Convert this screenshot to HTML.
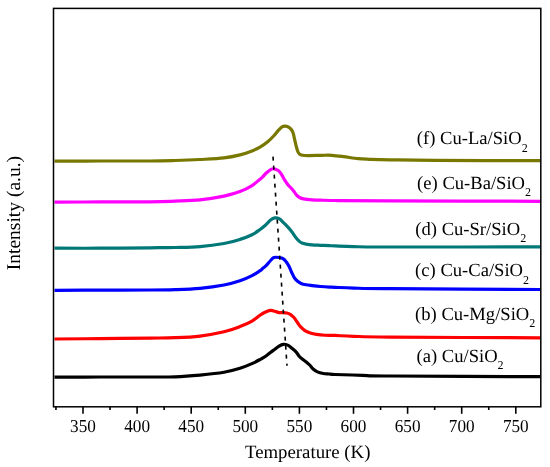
<!DOCTYPE html>
<html><head><meta charset="utf-8"><style>
html,body{margin:0;padding:0;background:#fff;width:550px;height:467px;overflow:hidden}
svg{display:block}
text{font-family:"Liberation Serif","Times New Roman",serif;fill:#000;text-rendering:geometricPrecision}
</style></head><body>
<svg width="550" height="467" viewBox="0 0 550 467">
<rect x="0" y="0" width="550" height="467" fill="#fff"/>
<path d="M54.50,161.20 C62.08,161.17 84.08,161.03 100.00,161.00 C115.92,160.97 137.50,161.08 150.00,161.00 C162.50,160.92 166.67,160.75 175.00,160.50 C183.33,160.25 191.83,159.93 200.00,159.50 C208.17,159.07 217.33,158.72 224.00,157.95 C230.67,157.18 235.33,156.07 240.00,154.90 C244.67,153.73 248.67,152.20 252.00,150.90 C255.33,149.60 257.33,148.67 260.00,147.10 C262.67,145.53 265.52,143.58 268.00,141.50 C270.48,139.42 273.22,136.40 274.90,134.60 C276.58,132.80 276.90,131.98 278.10,130.70 C279.30,129.42 280.85,127.65 282.10,126.90 C283.35,126.15 284.35,126.05 285.60,126.20 C286.85,126.35 288.40,126.82 289.60,127.80 C290.80,128.78 291.97,130.18 292.80,132.10 C293.63,134.02 294.02,136.90 294.60,139.30 C295.18,141.70 295.77,144.47 296.30,146.50 C296.83,148.53 297.30,150.28 297.80,151.50 C298.30,152.72 298.68,153.22 299.30,153.80 C299.92,154.38 300.63,154.72 301.50,155.00 C302.37,155.28 303.25,155.40 304.50,155.50 C305.75,155.60 306.12,155.63 309.00,155.60 C311.88,155.57 317.97,155.35 321.80,155.30 C325.63,155.25 328.37,155.08 332.00,155.30 C335.63,155.52 339.23,156.03 343.60,156.60 C347.97,157.17 353.83,158.25 358.20,158.70 C362.57,159.15 364.58,159.12 369.80,159.30 C375.02,159.48 378.63,159.62 389.50,159.80 C400.37,159.98 409.83,160.27 435.00,160.40 C460.17,160.53 522.92,160.57 540.50,160.60" fill="none" stroke="#787800" stroke-width="3.2" stroke-linejoin="round" stroke-linecap="butt"/>
<path d="M54.50,202.05 C62.08,202.03 84.08,201.98 100.00,201.95 C115.92,201.92 137.50,201.99 150.00,201.85 C162.50,201.71 166.67,201.45 175.00,201.11 C183.33,200.77 191.83,200.64 200.00,199.80 C208.17,198.97 217.33,197.47 224.00,196.10 C230.67,194.73 235.33,193.35 240.00,191.60 C244.67,189.85 248.67,187.67 252.00,185.60 C255.33,183.53 258.30,180.57 260.00,179.20 C261.70,177.83 261.15,178.43 262.20,177.40 C263.25,176.37 264.90,174.30 266.30,173.00 C267.70,171.70 269.32,170.30 270.60,169.60 C271.88,168.90 272.72,168.65 274.00,168.80 C275.28,168.95 277.10,169.65 278.30,170.50 C279.50,171.35 280.15,172.33 281.20,173.90 C282.25,175.47 283.45,178.05 284.60,179.90 C285.75,181.75 286.95,183.57 288.10,185.00 C289.25,186.43 290.48,187.38 291.50,188.50 C292.52,189.62 293.35,190.58 294.20,191.70 C295.05,192.82 295.72,194.23 296.60,195.20 C297.48,196.17 298.33,196.88 299.50,197.50 C300.67,198.12 301.50,198.52 303.60,198.90 C305.70,199.28 309.25,199.58 312.10,199.80 C314.95,200.02 316.88,200.08 320.70,200.20 C324.52,200.32 323.45,200.38 335.00,200.50 C346.55,200.62 355.75,200.77 390.00,200.90 C424.25,201.03 515.42,201.23 540.50,201.30" fill="none" stroke="#ff00ff" stroke-width="3.2" stroke-linejoin="round" stroke-linecap="butt"/>
<path d="M54.50,248.20 C62.08,248.20 84.08,248.27 100.00,248.20 C115.92,248.13 137.50,247.92 150.00,247.80 C162.50,247.68 166.67,247.70 175.00,247.50 C183.33,247.30 191.83,247.27 200.00,246.60 C208.17,245.93 217.33,244.70 224.00,243.50 C230.67,242.30 235.33,240.85 240.00,239.40 C244.67,237.95 248.67,236.44 252.00,234.80 C255.33,233.16 258.28,230.72 260.00,229.55 C261.72,228.38 261.25,228.68 262.30,227.80 C263.35,226.93 264.92,225.60 266.30,224.30 C267.68,223.00 269.18,221.07 270.60,220.00 C272.02,218.93 273.38,218.12 274.80,217.90 C276.22,217.68 277.67,217.92 279.10,218.70 C280.53,219.48 281.97,221.23 283.40,222.60 C284.83,223.97 286.27,225.33 287.70,226.90 C289.13,228.47 290.62,230.20 292.00,232.00 C293.38,233.80 294.72,236.10 296.00,237.70 C297.28,239.30 298.70,240.70 299.70,241.60 C300.70,242.50 300.93,242.68 302.00,243.10 C303.07,243.52 304.42,243.80 306.10,244.10 C307.78,244.40 309.67,244.70 312.10,244.90 C314.53,245.10 317.83,245.17 320.70,245.30 C323.57,245.43 326.92,245.60 329.30,245.70 C331.68,245.80 330.95,245.75 335.00,245.90 C339.05,246.05 344.43,246.42 353.60,246.60 C362.77,246.78 358.85,246.95 390.00,247.00 C421.15,247.05 515.42,246.92 540.50,246.90" fill="none" stroke="#007878" stroke-width="3.2" stroke-linejoin="round" stroke-linecap="butt"/>
<path d="M54.50,290.40 C62.08,290.35 84.08,290.17 100.00,290.10 C115.92,290.03 137.50,290.08 150.00,290.00 C162.50,289.92 166.67,289.88 175.00,289.60 C183.33,289.32 191.83,289.07 200.00,288.30 C208.17,287.53 217.33,286.25 224.00,285.00 C230.67,283.75 235.33,282.37 240.00,280.80 C244.67,279.23 248.67,277.28 252.00,275.60 C255.33,273.92 258.30,271.82 260.00,270.70 C261.70,269.58 261.15,269.78 262.20,268.90 C263.25,268.02 264.90,266.80 266.30,265.40 C267.70,264.00 269.32,261.82 270.60,260.50 C271.88,259.18 272.58,258.00 274.00,257.50 C275.42,257.00 277.53,257.28 279.10,257.50 C280.67,257.72 282.17,258.02 283.40,258.80 C284.63,259.58 285.55,260.92 286.50,262.20 C287.45,263.48 288.23,264.78 289.10,266.50 C289.97,268.22 290.82,270.62 291.70,272.50 C292.58,274.38 293.42,276.33 294.40,277.80 C295.38,279.27 296.50,280.37 297.60,281.30 C298.70,282.23 299.58,282.82 301.00,283.40 C302.42,283.98 304.25,284.43 306.10,284.80 C307.95,285.17 309.67,285.32 312.10,285.60 C314.53,285.88 317.83,286.25 320.70,286.50 C323.57,286.75 326.92,286.97 329.30,287.10 C331.68,287.23 330.95,287.13 335.00,287.30 C339.05,287.47 344.43,287.87 353.60,288.10 C362.77,288.33 358.85,288.47 390.00,288.70 C421.15,288.93 515.42,289.37 540.50,289.50" fill="none" stroke="#0000ff" stroke-width="3.2" stroke-linejoin="round" stroke-linecap="butt"/>
<path d="M54.50,339.00 C62.08,338.93 84.08,338.75 100.00,338.60 C115.92,338.45 137.50,338.25 150.00,338.10 C162.50,337.95 166.67,338.04 175.00,337.70 C183.33,337.36 191.83,337.03 200.00,336.05 C208.17,335.07 217.33,333.38 224.00,331.80 C230.67,330.23 235.33,328.38 240.00,326.60 C244.67,324.82 248.67,323.00 252.00,321.10 C255.33,319.20 257.83,316.67 260.00,315.20 C262.17,313.73 263.23,313.10 265.00,312.30 C266.77,311.50 268.97,310.57 270.60,310.40 C272.23,310.23 273.38,310.93 274.80,311.30 C276.22,311.67 277.80,312.38 279.10,312.60 C280.40,312.82 281.32,312.53 282.60,312.60 C283.88,312.67 285.52,312.72 286.80,313.00 C288.08,313.28 289.15,313.58 290.30,314.30 C291.45,315.02 292.57,316.02 293.70,317.30 C294.83,318.58 296.07,320.55 297.10,322.00 C298.13,323.45 299.00,324.90 299.90,326.00 C300.80,327.10 301.60,327.78 302.50,328.60 C303.40,329.42 303.98,330.17 305.30,330.90 C306.62,331.63 308.55,332.43 310.40,333.00 C312.25,333.57 313.97,333.93 316.40,334.30 C318.83,334.67 321.90,335.04 325.00,335.23 C328.10,335.43 330.23,335.29 335.00,335.47 C339.77,335.65 344.43,336.03 353.60,336.30 C362.77,336.57 358.85,336.85 390.00,337.10 C421.15,337.35 515.42,337.68 540.50,337.80" fill="none" stroke="#ff0000" stroke-width="3.2" stroke-linejoin="round" stroke-linecap="butt"/>
<path d="M54.50,377.10 C62.08,377.08 84.08,377.02 100.00,377.00 C115.92,376.98 137.50,377.03 150.00,377.00 C162.50,376.97 166.67,377.12 175.00,376.80 C183.33,376.48 191.83,375.81 200.00,375.05 C208.17,374.29 217.33,373.38 224.00,372.26 C230.67,371.13 235.33,369.74 240.00,368.30 C244.67,366.86 248.67,365.06 252.00,363.60 C255.33,362.14 257.67,360.83 260.00,359.55 C262.33,358.27 263.83,357.44 266.00,355.95 C268.17,354.46 270.82,352.24 273.00,350.60 C275.18,348.96 277.37,347.15 279.10,346.10 C280.83,345.05 281.97,344.47 283.40,344.30 C284.83,344.13 286.38,344.53 287.70,345.10 C289.02,345.67 290.12,346.77 291.30,347.70 C292.48,348.63 293.83,349.78 294.80,350.70 C295.77,351.62 296.33,352.23 297.10,353.20 C297.87,354.17 298.43,355.45 299.40,356.50 C300.37,357.55 301.75,358.58 302.90,359.50 C304.05,360.42 305.17,361.08 306.30,362.00 C307.43,362.92 308.57,363.83 309.70,365.00 C310.83,366.17 311.82,367.85 313.10,369.00 C314.38,370.15 315.70,371.15 317.40,371.90 C319.10,372.65 321.32,373.15 323.30,373.50 C325.28,373.85 327.35,373.83 329.30,374.00 C331.25,374.17 329.43,374.28 335.00,374.50 C340.57,374.72 353.53,375.05 362.70,375.30 C371.87,375.55 360.37,375.77 390.00,376.00 C419.63,376.23 515.42,376.58 540.50,376.70" fill="none" stroke="#000000" stroke-width="3.2" stroke-linejoin="round" stroke-linecap="butt"/>
<line x1="273" y1="156.6" x2="287" y2="365.8" stroke="#000" stroke-width="1.6" stroke-dasharray="4 5.02"/>
<rect x="53.5" y="8.4" width="487.3" height="398.4" fill="none" stroke="#000" stroke-width="1.5"/>
<line x1="55.95" y1="406.8" x2="55.95" y2="410.00" stroke="#000" stroke-width="1.6"/>
<line x1="83.00" y1="406.8" x2="83.00" y2="413.80" stroke="#000" stroke-width="1.6"/>
<text transform="translate(83.00,431.9) scale(1,1.06)" x="0" y="0" font-size="17.2" text-anchor="middle">350</text>
<line x1="110.05" y1="406.8" x2="110.05" y2="410.00" stroke="#000" stroke-width="1.6"/>
<line x1="137.10" y1="406.8" x2="137.10" y2="413.80" stroke="#000" stroke-width="1.6"/>
<text transform="translate(137.10,431.9) scale(1,1.06)" x="0" y="0" font-size="17.2" text-anchor="middle">400</text>
<line x1="164.15" y1="406.8" x2="164.15" y2="410.00" stroke="#000" stroke-width="1.6"/>
<line x1="191.20" y1="406.8" x2="191.20" y2="413.80" stroke="#000" stroke-width="1.6"/>
<text transform="translate(191.20,431.9) scale(1,1.06)" x="0" y="0" font-size="17.2" text-anchor="middle">450</text>
<line x1="218.25" y1="406.8" x2="218.25" y2="410.00" stroke="#000" stroke-width="1.6"/>
<line x1="245.30" y1="406.8" x2="245.30" y2="413.80" stroke="#000" stroke-width="1.6"/>
<text transform="translate(245.30,431.9) scale(1,1.06)" x="0" y="0" font-size="17.2" text-anchor="middle">500</text>
<line x1="272.35" y1="406.8" x2="272.35" y2="410.00" stroke="#000" stroke-width="1.6"/>
<line x1="299.40" y1="406.8" x2="299.40" y2="413.80" stroke="#000" stroke-width="1.6"/>
<text transform="translate(299.40,431.9) scale(1,1.06)" x="0" y="0" font-size="17.2" text-anchor="middle">550</text>
<line x1="326.45" y1="406.8" x2="326.45" y2="410.00" stroke="#000" stroke-width="1.6"/>
<line x1="353.50" y1="406.8" x2="353.50" y2="413.80" stroke="#000" stroke-width="1.6"/>
<text transform="translate(353.50,431.9) scale(1,1.06)" x="0" y="0" font-size="17.2" text-anchor="middle">600</text>
<line x1="380.55" y1="406.8" x2="380.55" y2="410.00" stroke="#000" stroke-width="1.6"/>
<line x1="407.60" y1="406.8" x2="407.60" y2="413.80" stroke="#000" stroke-width="1.6"/>
<text transform="translate(407.60,431.9) scale(1,1.06)" x="0" y="0" font-size="17.2" text-anchor="middle">650</text>
<line x1="434.65" y1="406.8" x2="434.65" y2="410.00" stroke="#000" stroke-width="1.6"/>
<line x1="461.70" y1="406.8" x2="461.70" y2="413.80" stroke="#000" stroke-width="1.6"/>
<text transform="translate(461.70,431.9) scale(1,1.06)" x="0" y="0" font-size="17.2" text-anchor="middle">700</text>
<line x1="488.75" y1="406.8" x2="488.75" y2="410.00" stroke="#000" stroke-width="1.6"/>
<line x1="515.80" y1="406.8" x2="515.80" y2="413.80" stroke="#000" stroke-width="1.6"/>
<text transform="translate(515.80,431.9) scale(1,1.06)" x="0" y="0" font-size="17.2" text-anchor="middle">750</text>
<text x="245" y="457.7" font-size="18.8">Temperature (K)</text>
<text transform="translate(20.2,270.2) rotate(-90)" x="0" y="0" font-size="19.5">Intensity (a.u.)</text>
<text x="416.80" y="144.40" font-size="18.6">(f) Cu-La/SiO<tspan font-size="12" dy="7.3">2</tspan></text>
<text x="417.10" y="188.90" font-size="18.6">(e) Cu-Ba/SiO<tspan font-size="12" dy="7.3">2</tspan></text>
<text x="415.30" y="234.70" font-size="18.6">(d) Cu-Sr/SiO<tspan font-size="12" dy="7.3">2</tspan></text>
<text x="415.10" y="276.40" font-size="18.6">(c) Cu-Ca/SiO<tspan font-size="12" dy="7.3">2</tspan></text>
<text x="415.10" y="319.80" font-size="18.6">(b) Cu-Mg/SiO<tspan font-size="12" dy="7.3">2</tspan></text>
<text x="416.50" y="362.10" font-size="18.6">(a) Cu/SiO<tspan font-size="12" dy="7.3">2</tspan></text>
</svg>
</body></html>
